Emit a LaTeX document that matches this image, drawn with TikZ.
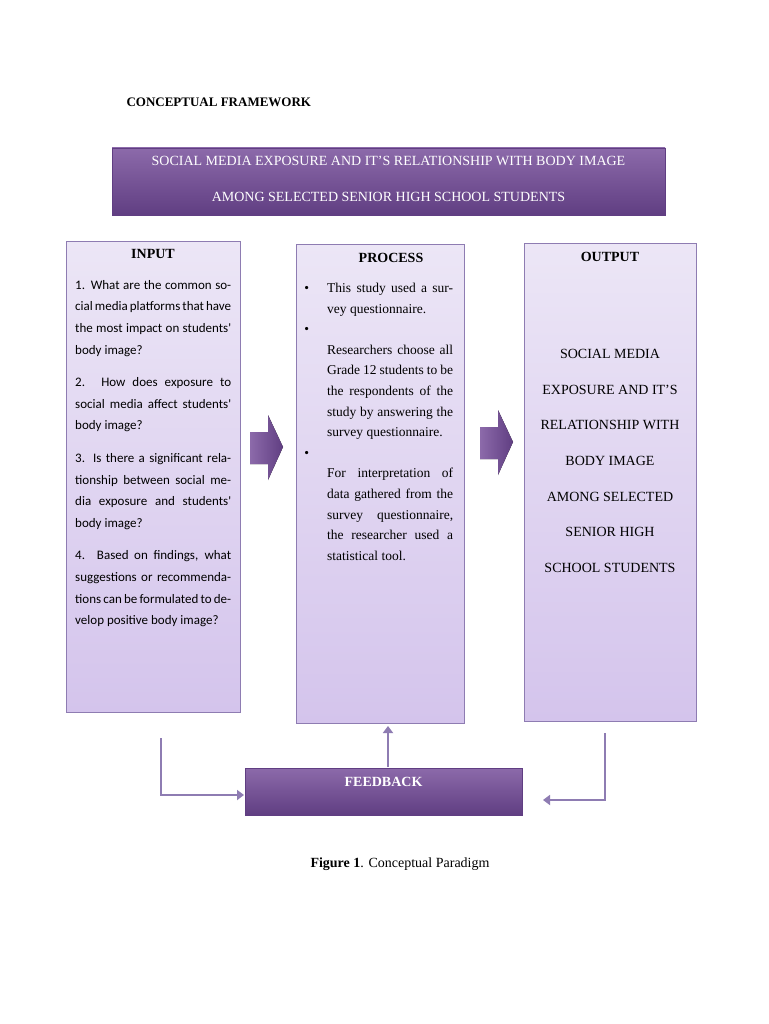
\documentclass[tikz,border=0pt]{standalone}
\usepackage{fontspec}
\setmainfont{Liberation Serif}
\newfontfamily\calib{Carlito}
\usetikzlibrary{positioning, arrows.meta}
\definecolor{light}{RGB}{236, 230, 246}
\definecolor{lilac}{RGB}{212, 196, 236}
\definecolor{edge}{RGB}{142, 124, 178}
\definecolor{dark}{RGB}{96, 62, 130}
\definecolor{mid}{RGB}{140, 106, 170}

\tikzset{
  panel/.style={draw=edge, line width=0.8pt, top color=light, bottom color=lilac},
  banner/.style={draw=dark, top color=mid, bottom color=dark},
  link/.style={draw=edge, line width=2.2pt, -{Triangle[length=7pt, width=10pt]}},
  blockarrow/.style={left color=mid, right color=dark, draw=none}
}

\begin{document}
\begin{tikzpicture}[x=1pt, y=-1pt]
  \useasboundingbox[fill=white] (0, 0) rectangle (768, 1024);

  \node[font=\bfseries\fontsize{13}{15}\selectfont, anchor=west] (head) at (123, 102) {CONCEPTUAL FRAMEWORK};

  % title banner
  \fill[banner] (112, 148) rectangle (665, 215);
  \node[text=white, font=\fontsize{14}{36}\selectfont, align=center] (topic) at (388.5, 179)
    {SOCIAL MEDIA EXPOSURE AND IT'S RELATIONSHIP WITH BODY IMAGE\\AMONG SELECTED SENIOR HIGH SCHOOL STUDENTS};

  % three panels
  \fill[panel] (66, 241) rectangle (240, 712);
  \fill[panel] (296, 244) rectangle (464, 723);
  \fill[panel] (524, 243) rectangle (696, 721);
  \coordinate (inbox) at (153, 712);
  \coordinate (procbox) at (388, 723);
  \coordinate (outbox) at (605, 721);

  \node[font=\bfseries\fontsize{14}{16}\selectfont] (input) at (153, 254) {INPUT};
  \node[font=\bfseries\fontsize{14}{16}\selectfont] (process) at (391, 258) {PROCESS};
  \node[font=\bfseries\fontsize{14}{16}\selectfont] (output) at (610, 257) {OUTPUT};

  \node[anchor=north west, text width=156pt, inner sep=0pt, align=justify,
        font=\calib\fontsize{13}{21.6}\selectfont] (questions) at (75, 280) {%
    1. What are the common social media platforms that have the most impact on students' body image?\par\vspace{11pt}
    2. How does exposure to social media affect students' body image?\par\vspace{11pt}
    3. Is there a significant relationship between social media exposure and students' body image?\par\vspace{11pt}
    4. Based on findings, what suggestions or recommendations can be formulated to develop positive body image?};

  \node[anchor=north west, text width=126pt, inner sep=0pt, align=justify,
        font=\fontsize{13.5}{20.6}\selectfont] (steps) at (327, 283) {%
    \llap{\textbullet\hspace{18pt}}This study used a survey questionnaire.\par
    \llap{\textbullet\hspace{18pt}}Researchers choose all Grade 12 students to be the respondents of the study by answering the survey questionnaire.\par
    \llap{\textbullet\hspace{18pt}}For interpretation of data gathered from the survey questionnaire, the researcher used a statistical tool.};

  \node[align=center, font=\fontsize{14}{35.6}\selectfont] (result) at (610, 461)
    {SOCIAL MEDIA\\EXPOSURE AND IT'S\\RELATIONSHIP WITH\\BODY IMAGE\\AMONG SELECTED\\SENIOR HIGH\\SCHOOL STUDENTS};

  % block arrows between panels
  \fill[blockarrow] (250, 432) -- (268, 432) -- (268, 415) -- (283, 447) -- (268, 480) -- (268, 464) -- (250, 464) -- cycle;
  \fill[blockarrow] (480, 427) -- (498, 427) -- (498, 410) -- (513, 442) -- (498, 475) -- (498, 459) -- (480, 459) -- cycle;

  % feedback
  \fill[banner] (245, 768) rectangle (522, 815);
  \node[text=white, font=\bfseries\fontsize{14}{16}\selectfont] (feedback) at (383.5, 782) {FEEDBACK};
  \coordinate (fbleft) at (244, 795);
  \coordinate (fbright) at (543, 800);
  \coordinate (fbtop) at (388, 767);

  \draw[link] (161, 738) |- (fbleft);
  \draw[link] (605, 733) |- (fbright);
  \draw[link] (fbtop) -- (388, 726);

  \node[font=\fontsize{14}{16}\selectfont] (caption) at (400, 864) {\textbf{Figure 1}. Conceptual Paradigm};
\end{tikzpicture}
\end{document}
